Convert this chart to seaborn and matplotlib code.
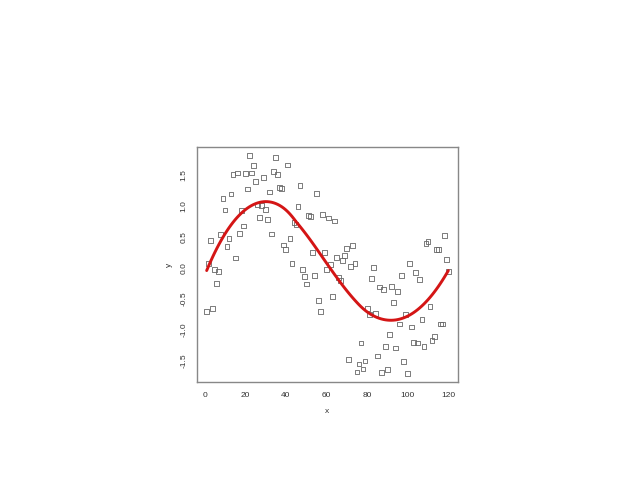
#!/usr/bin/env python3
"""Noisy sine scatter with a loess smooth, drawn in an R base-graphics look."""

import matplotlib
matplotlib.use("Agg")
import matplotlib.pyplot as plt
import numpy as np
import pandas as pd
import seaborn as sns

# x runs 1..120, one observation each
x_values = list(range(1, 121))
y_values = [
    -0.71, 0.07, 0.45, -0.66, -0.02, -0.25, -0.06, 0.54, 1.12, 0.94,
    0.35, 0.48, 1.20, 1.51, 0.16, 1.54, 0.56, 0.93, 0.68, 1.53,
    1.28, 1.82, 1.54, 1.66, 1.40, 1.02, 0.82, 1.01, 1.47, 0.95,
    0.78, 1.23, 0.55, 1.56, 1.79, 1.51, 1.30, 1.29, 0.37, 0.30,
    1.67, 0.48, 0.07, 0.73, 0.70, 0.99, 1.34, -0.03, -0.14, -0.26,
    0.85, 0.84, 0.25, -0.12, 1.21, -0.53, -0.71, 0.86, 0.25, -0.03,
    0.81, 0.06, -0.46, 0.76, 0.17, -0.15, -0.20, 0.12, 0.20, 0.31,
    -1.48, 0.02, 0.36, 0.07, -1.69, -1.56, -1.22, -1.64, -1.51, -0.66,
    -0.75, -0.17, 0.00, -0.74, -1.43, -0.31, -1.70, -0.35, -1.27, -1.65,
    -1.08, -0.30, -0.56, -1.30, -0.38, -0.91, -0.13, -1.52, -0.75, -1.71,
    0.07, -0.96, -1.21, -0.08, -1.22, -0.19, -0.84, -1.27, 0.40, 0.43,
    -0.63, -1.18, -1.11, 0.30, 0.30, -0.91, -0.91, 0.53, 0.13, -0.06,
]
x_ticks = [0, 20, 40, 60, 80, 100, 120]
y_ticks = [-1.5, -1.0, -0.5, 0.0, 0.5, 1.0, 1.5]


def loess(x, y, span=0.75):
    # local quadratic fit with tricube weights (R's loess defaults)
    x = np.asarray(x, float)
    y = np.asarray(y, float)
    n = len(x)
    q = int(np.floor(span * n))
    out = []
    for x0 in x:
        d = np.abs(x - x0)
        h = np.sort(d)[q - 1]
        w = np.clip(1 - (d / h) ** 3, 0, None) ** 3
        X = np.column_stack([np.ones(n), x - x0, (x - x0) ** 2])
        sw = np.sqrt(w)
        beta = np.linalg.lstsq(X * sw[:, None], y * sw, rcond=None)[0]
        out.append(beta[0])
    return np.array(out)


df = pd.DataFrame({"x": x_values, "y": y_values})
df["fit"] = loess(df["x"], df["y"])

sns.set_style("white")
plt.rcParams["font.family"] = ["Liberation Sans", "DejaVu Sans"]
plt.rcParams["axes.unicode_minus"] = False

fig = plt.figure(figsize=(6.38, 4.78), dpi=100)
ax = fig.add_axes([197 / 638, 96 / 478, 261 / 638, 235 / 478])

sns.scatterplot(data=df, x="x", y="y", ax=ax, marker="s", s=12,
                facecolors="none", edgecolor="#666666", linewidth=0.6)
sns.lineplot(data=df, x="x", y="fit", ax=ax, color="#d41515", linewidth=2.1)

# R-style 4% padding around the data range
xr = df["x"].max() - df["x"].min()
yr = df["y"].max() - df["y"].min()
ax.set_xlim(df["x"].min() - 0.04 * xr, df["x"].max() + 0.04 * xr)
ax.set_ylim(df["y"].min() - 0.04 * yr, df["y"].max() + 0.04 * yr)

ax.set_xticks(x_ticks)
ax.set_yticks(y_ticks)
ax.set_xticklabels([str(t) for t in x_ticks], fontsize=6, color="#333333")
ax.set_yticklabels([f"{t:.1f}" for t in y_ticks], fontsize=6, color="#333333",
                   rotation=90, va="center")
ax.tick_params(direction="out", length=3, width=0.6, color="#777777", pad=4)
ax.set_xlabel("x", fontsize=6, color="#333333", labelpad=7)
ax.set_ylabel("y", fontsize=6, color="#333333", labelpad=5)
for sp in ax.spines.values():
    sp.set_color("#888888")
    sp.set_linewidth(1.0)

fig.savefig("out.png", dpi=100)
